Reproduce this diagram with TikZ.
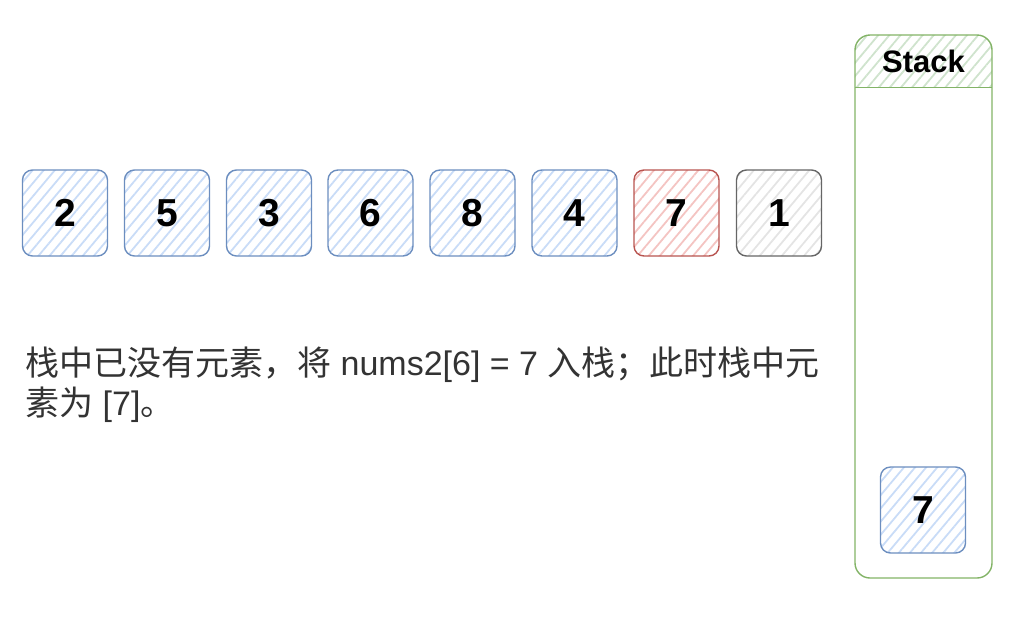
\documentclass[tikz,border=0pt]{standalone}
\usepackage{fontspec}
\setmainfont{Liberation Sans}
\newfontfamily\cjk{Noto Sans CJK SC}
\usetikzlibrary{patterns.meta}
\definecolor{bstroke}{HTML}{6C8EBF}
\definecolor{bfill}{HTML}{C9DCF7}
\definecolor{rstroke}{HTML}{B85450}
\definecolor{rfill}{HTML}{F4C4C2}
\definecolor{gstroke}{HTML}{666666}
\definecolor{gfill}{HTML}{E4E4E4}
\definecolor{grstroke}{HTML}{82B366}
\definecolor{grfill}{HTML}{CFE3CD}
\definecolor{captxt}{HTML}{333333}
\tikzset{
  cell/.style={minimum width=85pt, minimum height=86pt, rounded corners=10pt,
    line width=1.4pt, font=\fontsize{39}{40}\selectfont\bfseries, inner sep=0pt},
  hatch/.style={pattern={Lines[angle=50,distance=8.5pt,line width=1.8pt]}},
  bluecell/.style={cell, draw=bstroke, hatch, pattern color=bfill},
  redcell/.style={cell, draw=rstroke, hatch, pattern color=rfill},
  greycell/.style={cell, draw=gstroke, hatch, pattern color=gfill},
}
\begin{document}
\begin{tikzpicture}[x=1pt,y=-1pt]
\useasboundingbox (0,0) rectangle (1011,619);
% array
\node[bluecell] (a0) at (65,213) {2};
\node[bluecell] (a1) at (167,213) {5};
\node[bluecell] (a2) at (269,213) {3};
\node[bluecell] (a3) at (370.5,213) {6};
\node[bluecell] (a4) at (472.5,213) {8};
\node[bluecell] (a5) at (574.5,213) {4};
\node[redcell] (a6) at (676.5,213) {7};
\node[greycell] (a7) at (779,213) {1};
% stack
\node[minimum width=137pt, minimum height=52pt, inner sep=0pt] (hdr) at (923.5,61) {};
\path[hatch, pattern color=grfill] (hdr.south west) {[rounded corners=15pt] -- (hdr.north west) -- (hdr.north east)} -- (hdr.south east) -- cycle;
\node[draw=grstroke, line width=1.4pt, rounded corners=15pt, minimum width=137pt, minimum height=543pt, inner sep=0pt] (stk) at (923.5,306.5) {};
\draw[grstroke, line width=1.4pt] (hdr.south west) -- (hdr.south east);
\node[font=\fontsize{31}{34}\selectfont\bfseries] (stitle) at (hdr.center) {Stack};
\node[bluecell] (s0) at (923,510) {7};
% caption
\node[anchor=base west, align=left, inner sep=0pt, text=captxt, font=\fontsize{34}{40}\selectfont] (cap) at (25,415)
  {{\cjk 栈中已没有元素，将} nums2[6] = 7 {\cjk 入栈；此时栈中元}\\{\cjk 素为} [7]{\cjk 。}};
\end{tikzpicture}
\end{document}
